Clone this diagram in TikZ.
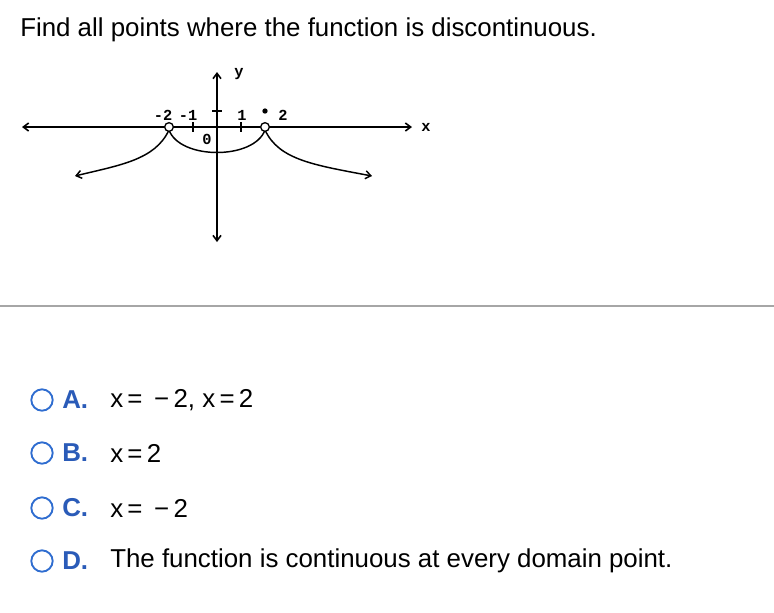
\documentclass[tikz,border=0pt]{standalone}
\usepackage{fontspec}
\setmainfont{Liberation Sans}
\newfontfamily\gmono{Liberation Mono}
\usetikzlibrary{arrows.meta}
\definecolor{optblue}{HTML}{2F6DD0}
\definecolor{letblue}{HTML}{2A5BB8}
\tikzset{
 ax/.style={line width=1.2pt,{Straight Barb[length=4pt,width=6pt]}-{Straight Barb[length=4pt,width=6pt]}},
 cur/.style={line width=1.1pt},
 glab/.style={font=\gmono\bfseries\fontsize{11.5}{12}\selectfont,inner sep=0pt},
 radio/.style={circle,draw=optblue,line width=1.4pt,minimum size=16pt,inner sep=0pt},
 let/.style={font=\fontsize{19.4}{23}\selectfont\bfseries,text=letblue,anchor=west,inner sep=0pt},
 ans/.style={font=\fontsize{19.4}{23}\selectfont,anchor=west,inner sep=0pt},
}
\begin{document}
\begin{tikzpicture}[x=0.75pt,y=-0.75pt]
\useasboundingbox (0,0) rectangle (774,612);
\fill[white] (0,0) rectangle (774,612);
\node[ans,anchor=base west] (title) at (20,36) {Find all points where the function is discontinuous.};
% axes
\coordinate (xl) at (22,127); \coordinate (xr) at (412,127);
\coordinate (yt) at (217,72); \coordinate (yb) at (217,242);
\draw[ax] (xl) -- (xr);
\draw[ax] (yt) -- (yb);
\node[glab] (xlab) at (426,127) {x};
\node[glab] (ylab) at (239,74) {y};
\foreach \t in {193,241} \draw[line width=1pt] (\t,122) -- (\t,132);
\draw[line width=1pt] (212,111) -- (222,111);
\node[glab] (lm2) at (163,115) {-2};
\node[glab] (lm1) at (188,115) {-1};
\node[glab] (l1) at (242,115) {1};
\node[glab] (l2) at (283,115) {2};
\node[glab] (l0) at (207,139) {0};
% curves
\coordinate (a) at (169,130); \coordinate (b) at (265,130);
\coordinate (le) at (75,176); \coordinate (re) at (372,176);
\draw[cur,-{Straight Barb[length=4pt,width=6pt]}] (a) .. controls (155,160) and (120,165) .. (le);
\draw[cur,-{Straight Barb[length=4pt,width=6pt]}] (b) .. controls (279,160) and (314,165) .. (re);
\draw[cur] (a) .. controls (180,160) and (254,160) .. (b);
\node[circle,draw,fill=white,line width=1pt,minimum size=6.5pt,inner sep=0pt] (oa) at (169,127) {};
\node[circle,draw,fill=white,line width=1pt,minimum size=6.5pt,inner sep=0pt] (ob) at (265,127) {};
\node[circle,fill,minimum size=4pt,inner sep=0pt] (fd) at (265,111) {};
% rule
\draw[gray!70,line width=0.8pt] (0,306) -- (774,306);
% options
\foreach \yy/\L/\T [count=\i] in {400/A./{x\,=\, −\,2, x\,=\,2},453/B./{x\,=\,2},508/C./{x\,=\, −\,2},561/D./{The function is continuous at every domain point.}}{
 \node[radio] (r\i) at (42,\yy) {};
 \node[let] (l\i) at (62,\yy) {\L};
 \node[ans] (t\i) at (110,\yy) {\T};
}
\end{tikzpicture}
\end{document}
